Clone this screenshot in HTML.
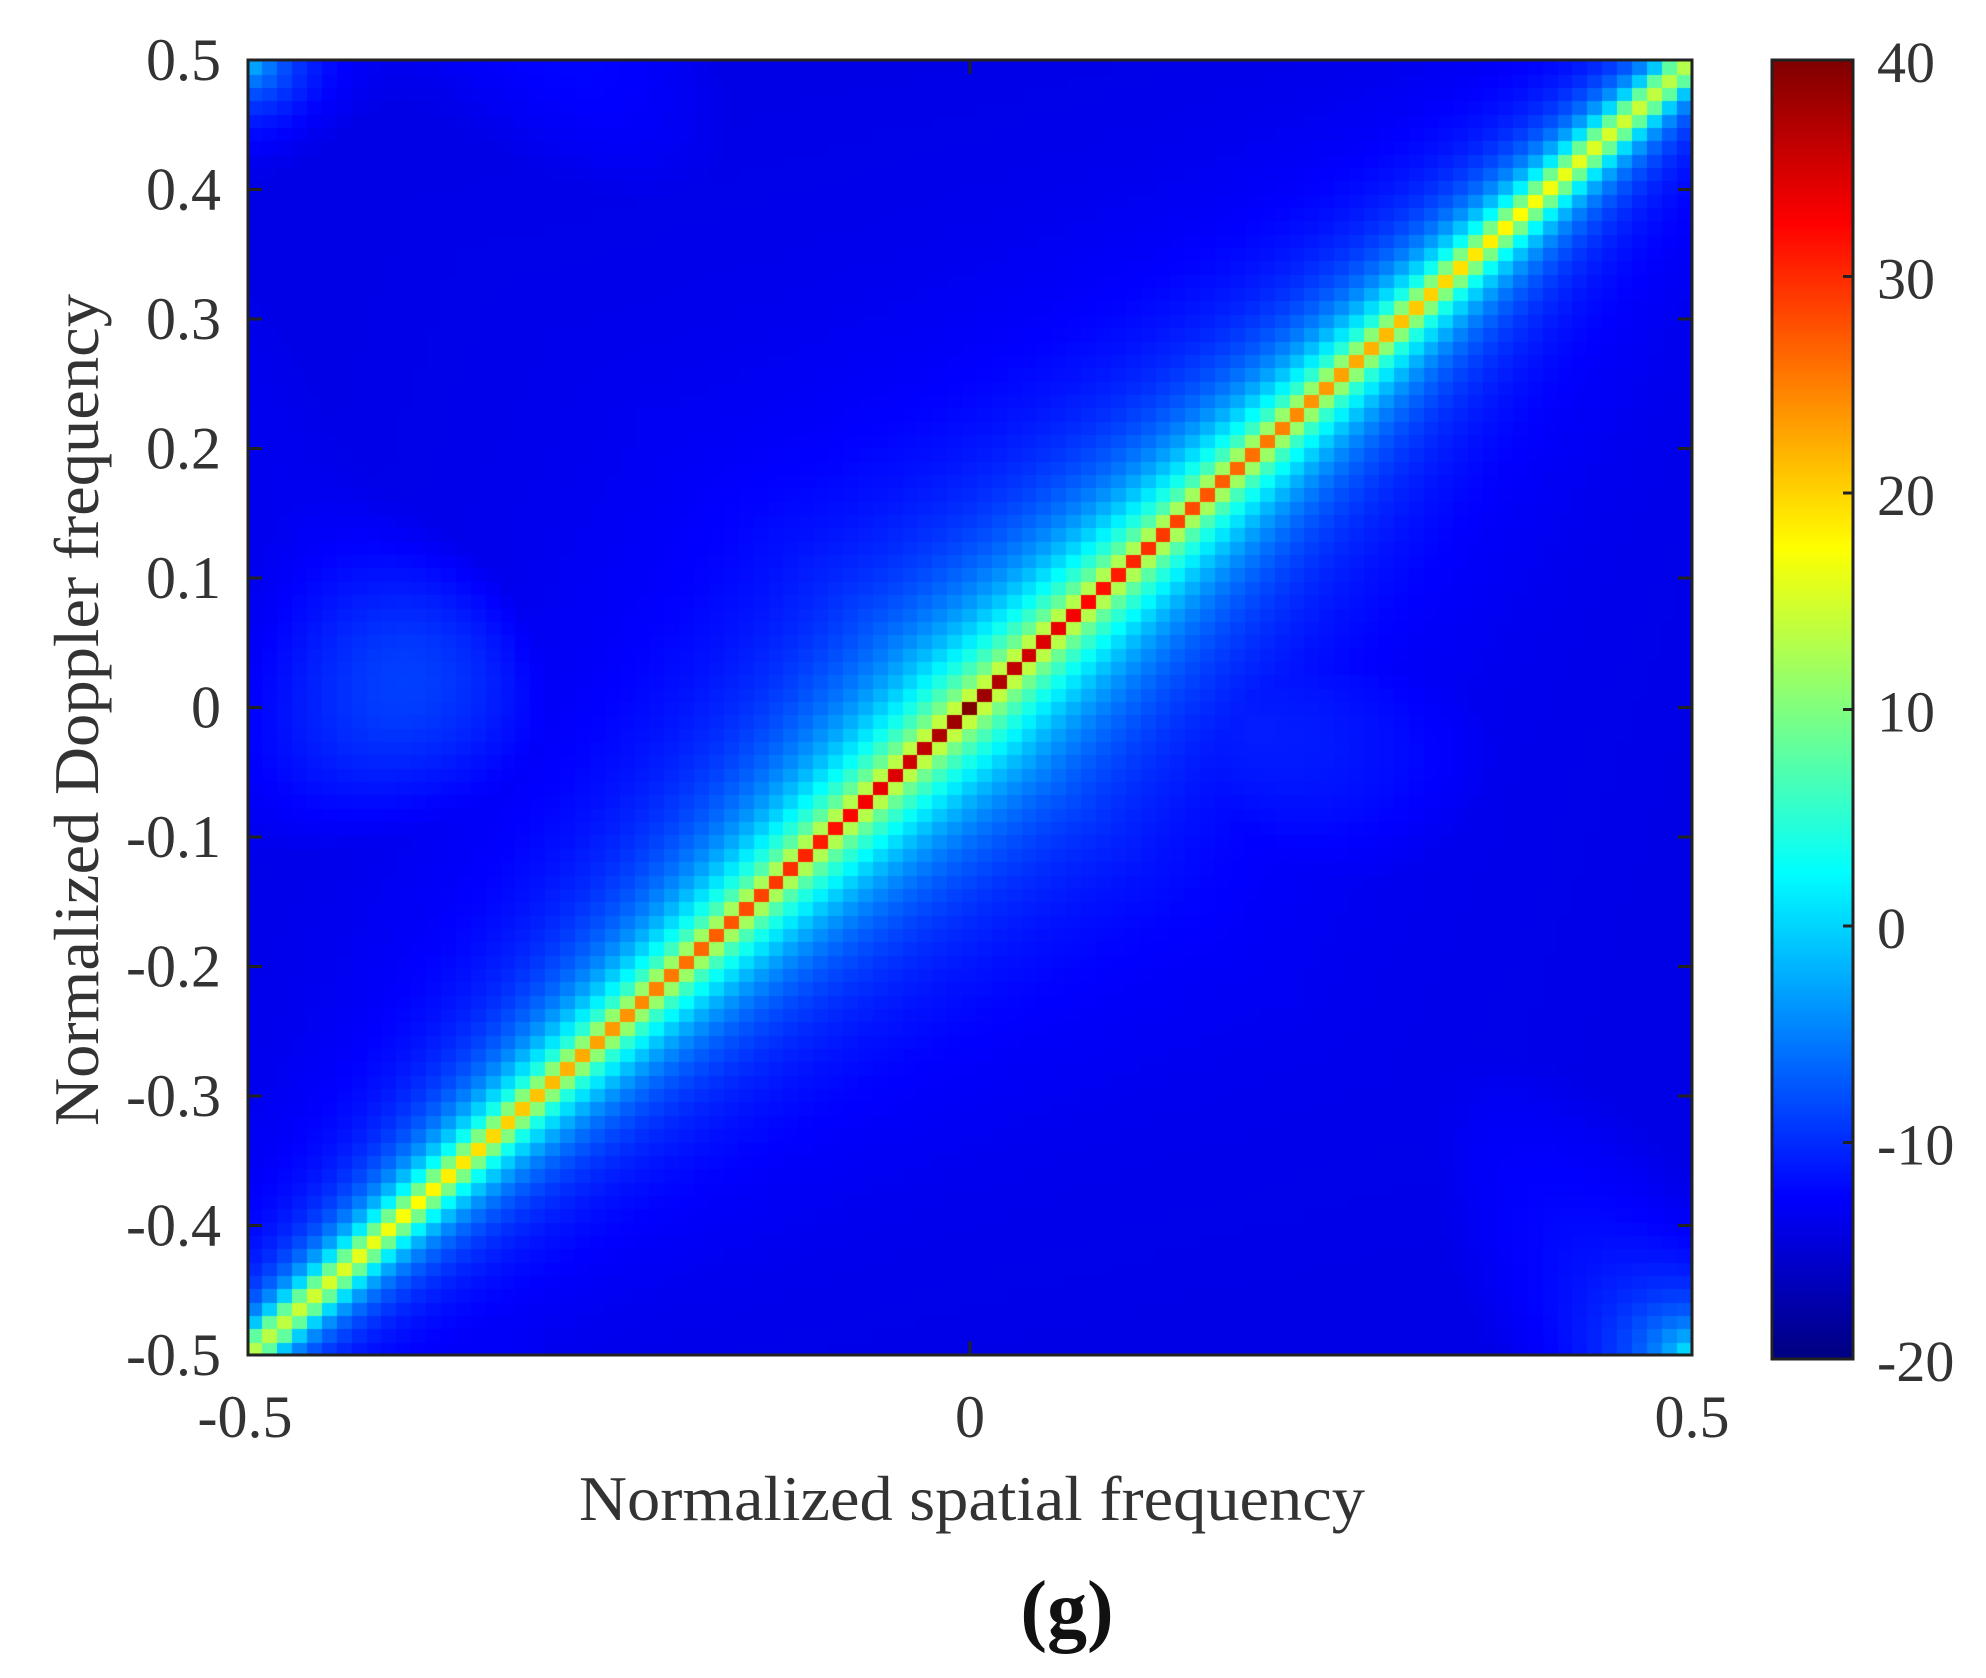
<!DOCTYPE html>
<html><head><meta charset="utf-8"><style>
html,body{margin:0;padding:0;background:#fff;}
#wrap{position:relative;width:1986px;height:1678px;overflow:hidden;}
canvas{position:absolute;}
svg{position:absolute;left:0;top:0;}
text{font-family:"Liberation Serif",serif;fill:#333;}
</style></head><body><div id="wrap">
<canvas id="hm" width="1444" height="1295" style="left:248px;top:60px;"></canvas>
<canvas id="cb" width="81" height="1299" style="left:1772px;top:60px;"></canvas>
<svg width="1986" height="1678" viewBox="0 0 1986 1678">
<rect x="248" y="60" width="1444" height="1295" fill="none" stroke="#222" stroke-width="3"/>
<rect x="1772" y="60" width="81" height="1299" fill="none" stroke="#222" stroke-width="3"/>
<g stroke="#222" stroke-width="3" id="ticks"></g>
<g font-size="60" text-anchor="end" id="ylab"></g>
<g font-size="60" text-anchor="middle">
<text x="245" y="1437">-0.5</text>
<text x="970" y="1437">0</text>
<text x="1692" y="1437">0.5</text>
</g>
<g font-size="58" id="cblab"></g>
<text x="972" y="1520" font-size="64" text-anchor="middle" textLength="786" lengthAdjust="spacingAndGlyphs">Normalized spatial frequency</text>
<text transform="translate(98,710) rotate(-90)" font-size="64" text-anchor="middle" textLength="832" lengthAdjust="spacingAndGlyphs">Normalized Doppler frequency</text>
<text x="1067" y="1636" font-size="80" font-weight="bold" text-anchor="middle" style="fill:#111">(g)</text>
</svg>
</div>
<script>
function cl(x){return Math.max(0,Math.min(1,x));}
function jet(v){var t=(v+20)/60;t=cl(t);
return [Math.round(255*cl(1.5-Math.abs(4*t-3))),Math.round(255*cl(1.5-Math.abs(4*t-2))),Math.round(255*cl(1.5-Math.abs(4*t-1)))];}
var c=document.getElementById('hm').getContext('2d');
var N=97,W=1444,H=1295,cw=W/N,ch=H/N;
function g(x,y,cx,cy,s){return Math.exp(-((x-cx)*(x-cx)+(y-cy)*(y-cy))/(2*s*s));}
for(var i=0;i<N;i++){for(var j=0;j<N;j++){
 var x=(i+0.5)/N-0.5,y=(j+0.5)/N-0.5;
 var k=Math.abs(i-j);var s=(i+j)/2/(N-1);var cc=Math.abs(s-0.5)*2;
 var v=-14.8+1.5*Math.sin(x*9+1)*Math.cos(y*7-0.5)+1.2*Math.sin(x*15+y*11);
 v+=5*g(x,y,-0.38,0.03,0.07)+4*g(x,y,0.25,0.0,0.09)+3*g(x,y,-0.45,-0.05,0.07)+2*g(x,y,0.35,-0.05,0.07);
 v+=-3*g(x,y,0.1,-0.3,0.15)-2*g(x,y,-0.15,0.25,0.12);
 v+=16*Math.exp(-Math.hypot(x+0.5,y-0.5)/0.04)+16*Math.exp(-Math.hypot(x-0.5,y+0.5)/0.035);
 if(k==0){v=40-27*Math.pow(cc,0.7);}
 else{var A=27-7*cc,w=6-4.2*cc;var d=k-1;
  v=Math.max(v,-14+A*Math.exp(-d/w)*0.72+A*0.28*Math.exp(-d/(w*3)));
  if(k==1)v=Math.max(v,14-6*cc);}
 var col=jet(v);c.fillStyle='rgb('+col+')';
 c.fillRect(Math.floor(i*cw),Math.floor(H-(j+1)*ch),Math.ceil(cw)+1,Math.ceil(ch)+1);
}}
var b=document.getElementById('cb').getContext('2d');
for(var p=0;p<1299;p++){var v=40-60*p/1299;var col=jet(v);b.fillStyle='rgb('+col+')';b.fillRect(0,p,81,1);}
var ns='http://www.w3.org/2000/svg';
function el(t,a,par,txt){var e=document.createElementNS(ns,t);for(var k in a)e.setAttribute(k,a[k]);if(txt!=null)e.textContent=txt;document.getElementById(par).appendChild(e);}
var labs=['0.5','0.4','0.3','0.2','0.1','0','-0.1','-0.2','-0.3','-0.4','-0.5'];
for(var n=0;n<11;n++){var yy=60+n*129.5;
 el('line',{x1:248,y1:yy,x2:262,y2:yy},'ticks');el('line',{x1:1692,y1:yy,x2:1678,y2:yy},'ticks');
 el('text',{x:221,y:yy+20},'ylab',labs[n]);}
[248,970,1692].forEach(function(xx){el('line',{x1:xx,y1:1355,x2:xx,y2:1341},'ticks');el('line',{x1:xx,y1:60,x2:xx,y2:74},'ticks');});
var cl2=['40','30','20','10','0','-10','-20'];
for(var n=0;n<7;n++){var yy=60+n*216.5;
 el('line',{x1:1853,y1:yy,x2:1843,y2:yy},'ticks');
 el('text',{x:1877,y:yy+22},'cblab',cl2[n]);}
</script>
</body></html>
